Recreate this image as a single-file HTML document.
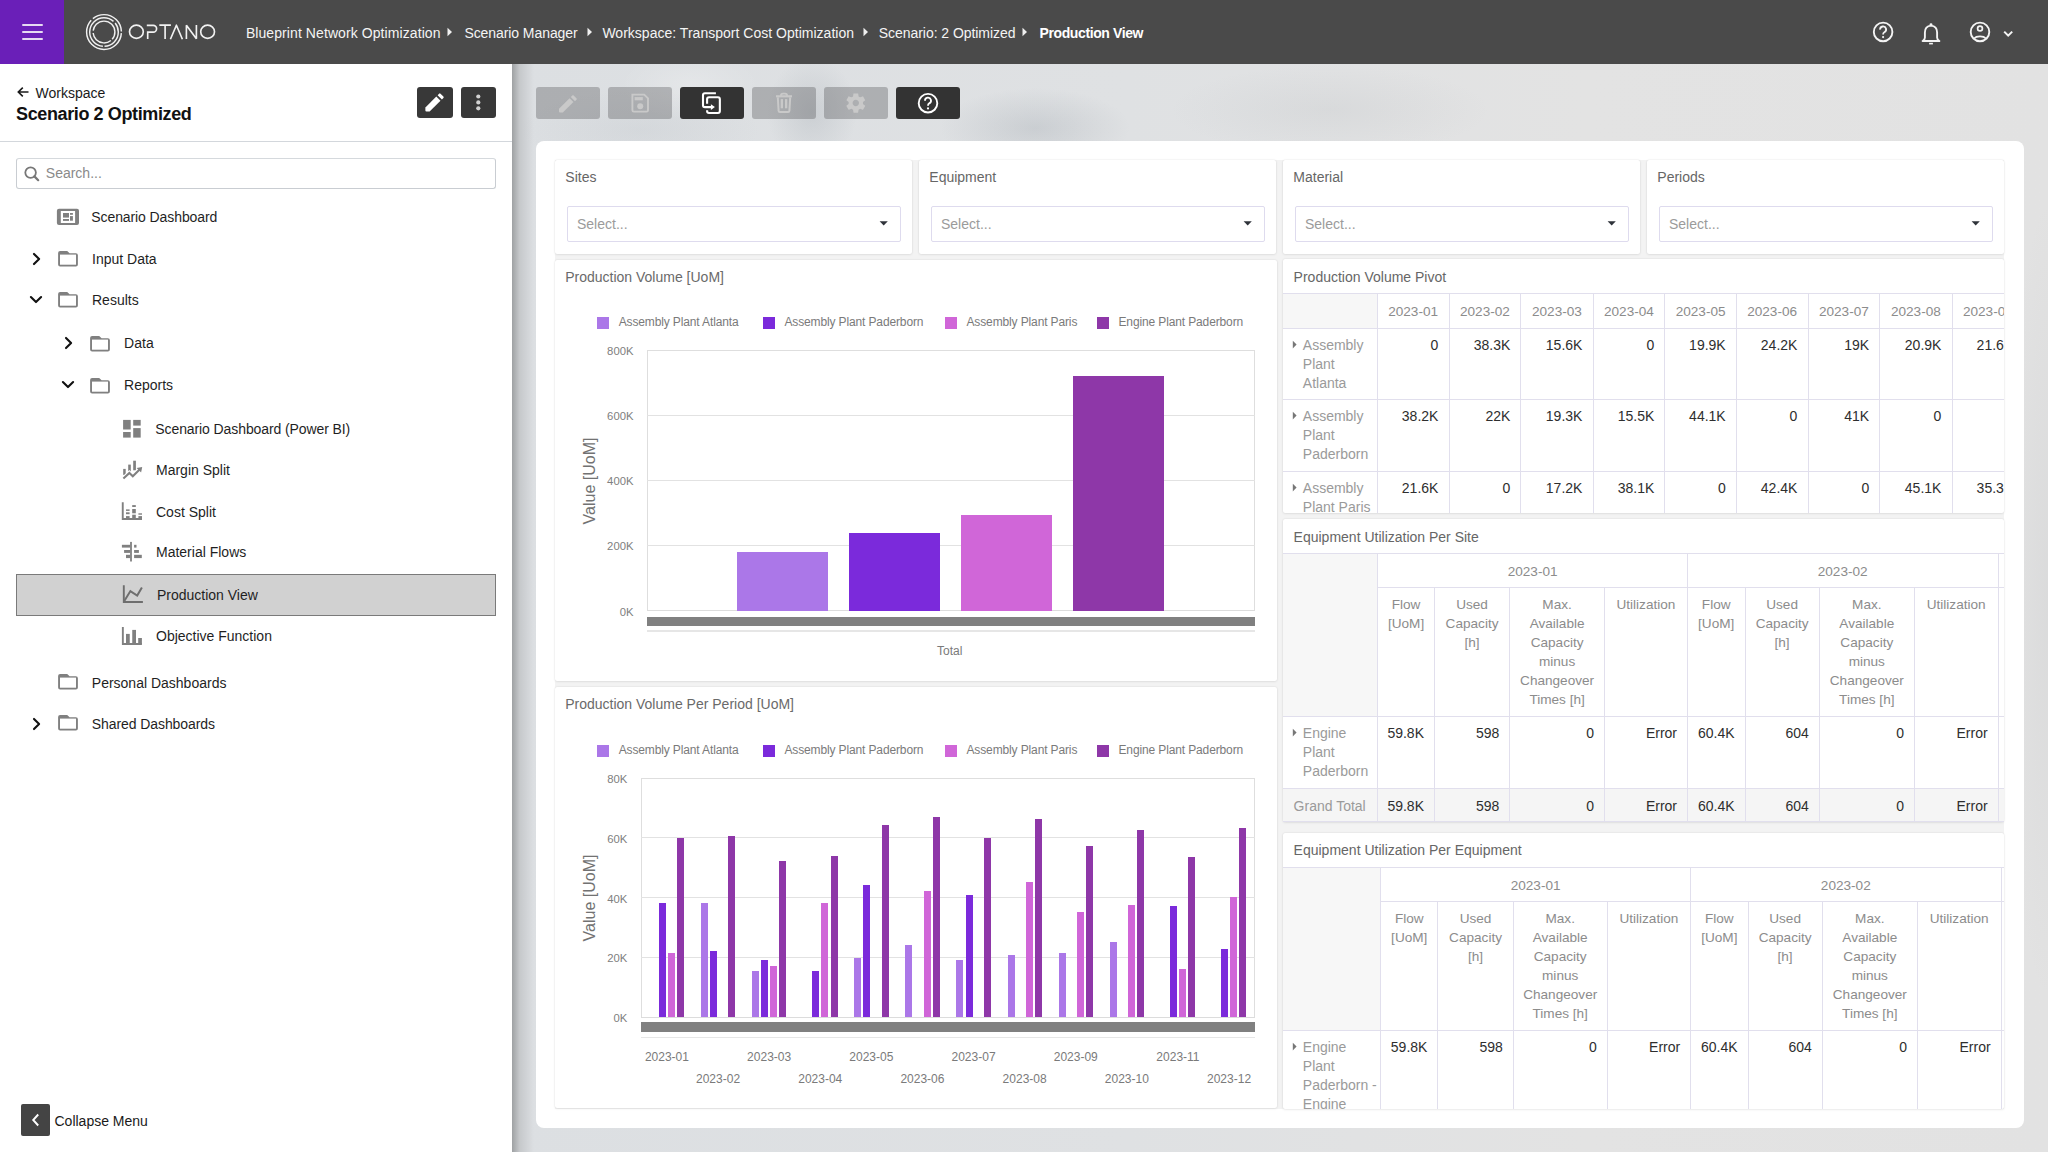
<!DOCTYPE html>
<html><head><meta charset="utf-8"><title>Production View</title>
<style>
html,body{margin:0;padding:0;}
body{width:2048px;height:1152px;position:relative;overflow:hidden;background:#e2e3e4;font-family:"Liberation Sans", sans-serif;}
.r{position:absolute;}
.t{position:absolute;white-space:nowrap;}
</style></head><body>
<div class="r" style="left:512px;top:64px;width:1536px;height:1088px;background:radial-gradient(ellipse 45px 55px at 300px 48px, rgba(130,140,150,0.20), rgba(0,0,0,0)),radial-gradient(ellipse 95px 40px at 523px 64px, rgba(130,140,150,0.22), rgba(0,0,0,0)),radial-gradient(ellipse 160px 45px at 818px 46px, rgba(140,145,150,0.10), rgba(0,0,0,0)),radial-gradient(ellipse 70px 35px at 178px 21px, rgba(255,255,255,0.22), rgba(0,0,0,0)),radial-gradient(ellipse 120px 40px at 128px 66px, rgba(140,150,160,0.10), rgba(0,0,0,0)),radial-gradient(ellipse 40px 400px at 1536px 536px, rgba(150,155,160,0.10), rgba(0,0,0,0)),linear-gradient(90deg,#dcdfe2 0%,#dfe1e3 40%,#e3e3e3 70%,#e2e2e2 100%);"></div>
<div class="r" style="left:536px;top:87px;width:64px;height:32px;background:rgba(70,72,74,0.32);border-radius:3px;"></div>
<div class="r" style="left:608px;top:87px;width:64px;height:32px;background:rgba(70,72,74,0.32);border-radius:3px;"></div>
<div class="r" style="left:680px;top:87px;width:64px;height:32px;background:#333333;border-radius:3px;"></div>
<div class="r" style="left:752px;top:87px;width:64px;height:32px;background:rgba(70,72,74,0.32);border-radius:3px;"></div>
<div class="r" style="left:824px;top:87px;width:64px;height:32px;background:rgba(70,72,74,0.32);border-radius:3px;"></div>
<div class="r" style="left:896px;top:87px;width:64px;height:32px;background:#333333;border-radius:3px;"></div>
<svg class="r" style="left:536px;top:87px;" width="64" height="32" viewBox="0 0 64 32"><path d="M23 21.8 L33.6 11.2 L37.4 15 L26.8 25.6 L24 25.6 Q23 25.6 23 24.6 Z" fill="#c9c9c9"/><path d="M34.8 10 L36.4 8.4 Q37 7.8 37.6 8.4 L40.6 11.4 Q41.2 12 40.6 12.6 L39 14.2 Z" fill="#c9c9c9"/></svg>
<svg class="r" style="left:608px;top:87px;" width="64" height="32" viewBox="0 0 64 32"><path d="M24.4 7.6 H36.2 L40 11.4 V23.2 Q40 24.6 38.6 24.6 H25.8 Q24.4 24.6 24.4 23.2 Z" fill="none" stroke="#c9c9c9" stroke-width="1.9"/><rect x="26.6" y="10.1" width="8.2" height="3.2" fill="#c9c9c9"/><circle cx="32.2" cy="19.3" r="3" fill="#c9c9c9"/></svg>
<svg class="r" style="left:680px;top:87px;" width="64" height="32" viewBox="0 0 64 32"><path d="M35.9 6.2 H24.9 Q23 6.2 23 8.1 V18.2 Q23 20.1 24.9 20.1 H31.6" fill="none" stroke="#ffffff" stroke-width="2.1"/><path d="M30.9 17.2 L34.9 20.1 L30.9 23 Z" fill="#ffffff"/><path d="M27.1 16.8 V12.2 Q27.1 10.3 29 10.3 H37.95 Q39.85 10.3 39.85 12.2 V24.1 Q39.85 26 37.95 26 H29 Q27.1 26 27.1 24.1 V23.3" fill="none" stroke="#ffffff" stroke-width="2.1"/></svg>
<svg class="r" style="left:752px;top:87px;" width="64" height="32" viewBox="0 0 64 32"><path d="M24 9.3 H40" stroke="#c9c9c9" stroke-width="2.2"/><path d="M28.8 9 Q28.8 6.6 31 6.6 H33 Q35.2 6.6 35.2 9" fill="none" stroke="#c9c9c9" stroke-width="1.7"/><path d="M25.8 10.4 L26.6 23.8 Q26.7 24.9 27.8 24.9 H36.2 Q37.3 24.9 37.4 23.8 L38.2 10.4" fill="none" stroke="#c9c9c9" stroke-width="2"/><rect x="28.7" y="12.1" width="2.3" height="9.2" fill="#c9c9c9"/><rect x="33" y="12.1" width="2.3" height="9.2" fill="#c9c9c9"/></svg>
<svg class="r" style="left:824px;top:87px;" width="64" height="32" viewBox="0 0 64 32"><g transform="translate(19.8 4.06)"><path fill="#c9c9c9" fill-rule="evenodd" d="M19.14 12.94c.04-.3.06-.61.06-.94 0-.32-.02-.64-.07-.94l2.03-1.58c.18-.14.23-.41.12-.61l-1.92-3.32c-.12-.22-.37-.29-.59-.22l-2.39.96c-.5-.38-1.030-.7-1.62-.94l-.36-2.54c-.04-.24-.24-.41-.48-.41h-3.84c-.24 0-.43.17-.47.41l-.36 2.54c-.59.24-1.13.57-1.62.94l-2.39-.96c-.22-.08-.47 0-.59.22L2.74 8.87c-.12.21-.08.47.12.61l2.03 1.58c-.05.3-.09.63-.09.94s.02.64.07.94l-2.03 1.58c-.18.14-.23.41-.12.61l1.92 3.32c.12.22.37.29.59.22l2.39-.96c.5.38 1.03.7 1.62.94l.36 2.54c.05.24.24.41.48.41h3.840c.24 0 .44-.17.47-.41l.36-2.54c.59-.24 1.13-.56 1.62-.94l2.39.96c.22.08.47 0 .59-.22l1.92-3.32c.12-.22.07-.47-.12-.61l-2.01-1.58zM12 15.2c-1.77 0-3.2-1.43-3.2-3.2s1.43-3.2 3.2-3.2 3.2 1.43 3.2 3.2-1.43 3.2-3.2 3.2z"/></g></svg>
<svg class="r" style="left:896px;top:87px;" width="64" height="32" viewBox="0 0 64 32"><circle cx="32" cy="16.2" r="9.3" fill="none" stroke="#ffffff" stroke-width="1.9"/><path d="M29 13.8 A3 3 0 1 1 33.2 16.4 C32.2 16.9 32 17.5 32 18.8" fill="none" stroke="#ffffff" stroke-width="1.8"/><circle cx="32" cy="21.4" r="1.1" fill="#ffffff"/></svg>
<div class="r" style="left:536px;top:141px;width:1488px;height:987px;background:#ffffff;border-radius:8px;"></div>
<div class="r" style="left:555px;top:159.5px;width:1449px;height:949.5px;background:#f3f3f3;"></div>
<div class="r" style="left:555px;top:159.5px;width:357px;height:94px;background:#ffffff;box-shadow:0 0 2px rgba(0,0,0,0.12),0 1px 3px rgba(0,0,0,0.05);border-radius:2px;"></div>
<div class="t" style="top:168.45px;font-size:14px;line-height:18px;color:#666666;left:565.30px;">Sites</div>
<div class="r" style="left:567px;top:206px;width:334px;height:35.5px;background:#fff;border:1px solid #dedbee;border-radius:2px;box-sizing:border-box;"></div>
<div class="t" style="top:215.15px;font-size:14px;line-height:18px;color:#9b9b9b;left:577.00px;">Select...</div>
<svg class="r" style="left:878px;top:219px;" width="12" height="8" viewBox="0 0 12 8"><path d="M1.6 2.3 H9.8 L5.7 6.6 Z" fill="#2f333a"/></svg>
<div class="r" style="left:919px;top:159.5px;width:357px;height:94px;background:#ffffff;box-shadow:0 0 2px rgba(0,0,0,0.12),0 1px 3px rgba(0,0,0,0.05);border-radius:2px;"></div>
<div class="t" style="top:168.45px;font-size:14px;line-height:18px;color:#666666;left:929.30px;">Equipment</div>
<div class="r" style="left:931px;top:206px;width:334px;height:35.5px;background:#fff;border:1px solid #dedbee;border-radius:2px;box-sizing:border-box;"></div>
<div class="t" style="top:215.15px;font-size:14px;line-height:18px;color:#9b9b9b;left:941.00px;">Select...</div>
<svg class="r" style="left:1242px;top:219px;" width="12" height="8" viewBox="0 0 12 8"><path d="M1.6 2.3 H9.8 L5.7 6.6 Z" fill="#2f333a"/></svg>
<div class="r" style="left:1283px;top:159.5px;width:357px;height:94px;background:#ffffff;box-shadow:0 0 2px rgba(0,0,0,0.12),0 1px 3px rgba(0,0,0,0.05);border-radius:2px;"></div>
<div class="t" style="top:168.45px;font-size:14px;line-height:18px;color:#666666;left:1293.30px;">Material</div>
<div class="r" style="left:1295px;top:206px;width:334px;height:35.5px;background:#fff;border:1px solid #dedbee;border-radius:2px;box-sizing:border-box;"></div>
<div class="t" style="top:215.15px;font-size:14px;line-height:18px;color:#9b9b9b;left:1305.00px;">Select...</div>
<svg class="r" style="left:1606px;top:219px;" width="12" height="8" viewBox="0 0 12 8"><path d="M1.6 2.3 H9.8 L5.7 6.6 Z" fill="#2f333a"/></svg>
<div class="r" style="left:1647px;top:159.5px;width:357px;height:94px;background:#ffffff;box-shadow:0 0 2px rgba(0,0,0,0.12),0 1px 3px rgba(0,0,0,0.05);border-radius:2px;"></div>
<div class="t" style="top:168.45px;font-size:14px;line-height:18px;color:#666666;left:1657.30px;">Periods</div>
<div class="r" style="left:1659px;top:206px;width:334px;height:35.5px;background:#fff;border:1px solid #dedbee;border-radius:2px;box-sizing:border-box;"></div>
<div class="t" style="top:215.15px;font-size:14px;line-height:18px;color:#9b9b9b;left:1669.00px;">Select...</div>
<svg class="r" style="left:1970px;top:219px;" width="12" height="8" viewBox="0 0 12 8"><path d="M1.6 2.3 H9.8 L5.7 6.6 Z" fill="#2f333a"/></svg>
<div class="r" style="left:555px;top:259.5px;width:722px;height:421px;background:#ffffff;box-shadow:0 0 2px rgba(0,0,0,0.12),0 1px 3px rgba(0,0,0,0.05);border-radius:2px;"></div>
<div class="t" style="top:267.65px;font-size:14px;line-height:18px;color:#6a6a6a;left:565.20px;">Production Volume [UoM]</div>
<div class="r" style="left:597.3px;top:316.8px;width:12px;height:12px;background:#ab77e8;"></div>
<div class="t" style="top:314.74px;font-size:12px;line-height:15px;color:#7a7a7a;letter-spacing:-0.13px;left:618.70px;">Assembly Plant Atlanta</div>
<div class="r" style="left:763.4px;top:316.8px;width:12px;height:12px;background:#7b2adb;"></div>
<div class="t" style="top:314.74px;font-size:12px;line-height:15px;color:#7a7a7a;letter-spacing:-0.13px;left:784.40px;">Assembly Plant Paderborn</div>
<div class="r" style="left:945.1px;top:316.8px;width:12px;height:12px;background:#d066d8;"></div>
<div class="t" style="top:314.74px;font-size:12px;line-height:15px;color:#7a7a7a;letter-spacing:-0.13px;left:966.50px;">Assembly Plant Paris</div>
<div class="r" style="left:1097px;top:316.8px;width:12px;height:12px;background:#8e37a8;"></div>
<div class="t" style="top:314.74px;font-size:12px;line-height:15px;color:#7a7a7a;letter-spacing:-0.13px;left:1118.50px;">Engine Plant Paderborn</div>
<div class="r" style="left:647px;top:350px;width:608px;height:260.79999999999995px;border:1px solid #dedede;border-bottom:none;box-sizing:border-box"></div>
<div class="t" style="top:343.78px;font-size:11.3px;line-height:14px;color:#808080;right:1414.50px;text-align:right;">800K</div>
<div class="r" style="left:647px;top:414.7px;width:608px;height:1px;background:#e2e2e2;"></div>
<div class="t" style="top:408.98px;font-size:11.3px;line-height:14px;color:#808080;right:1414.50px;text-align:right;">600K</div>
<div class="r" style="left:647px;top:479.9px;width:608px;height:1px;background:#e2e2e2;"></div>
<div class="t" style="top:474.18px;font-size:11.3px;line-height:14px;color:#808080;right:1414.50px;text-align:right;">400K</div>
<div class="r" style="left:647px;top:545.0999999999999px;width:608px;height:1px;background:#e2e2e2;"></div>
<div class="t" style="top:539.38px;font-size:11.3px;line-height:14px;color:#808080;right:1414.50px;text-align:right;">200K</div>
<div class="t" style="top:604.58px;font-size:11.3px;line-height:14px;color:#808080;right:1414.50px;text-align:right;">0K</div>
<div class="r" style="left:647px;top:610.3px;width:608px;height:1.2px;background:#dcdcdc;"></div>
<div class="r" style="left:737px;top:551.6px;width:91.29999999999995px;height:59.19999999999993px;background:#ab77e8;"></div>
<div class="r" style="left:848.9px;top:532.5px;width:91.30000000000007px;height:78.29999999999995px;background:#7b2adb;"></div>
<div class="r" style="left:961.2px;top:515.4px;width:90.79999999999995px;height:95.39999999999998px;background:#d066d8;"></div>
<div class="r" style="left:1073.4px;top:376.4px;width:90.89999999999986px;height:234.39999999999998px;background:#8e37a8;"></div>
<div class="r" style="left:647px;top:616.6px;width:608px;height:9.5px;background:#808080;"></div>
<div class="r" style="left:647px;top:630px;width:608px;height:1.5px;background:#e6e6e6;"></div>
<div class="t" style="top:643.54px;font-size:12px;line-height:15px;color:#7a7a7a;left:899.70px;width:100px;text-align:center;">Total</div>
<div class="t" style="left:529.6px;top:471px;width:120px;height:20px;line-height:20px;text-align:center;font-size:16px;color:#727272;transform:rotate(-90deg)">Value [UoM]</div>
<div class="r" style="left:555px;top:687.4px;width:722px;height:421px;background:#ffffff;box-shadow:0 0 2px rgba(0,0,0,0.12),0 1px 3px rgba(0,0,0,0.05);border-radius:2px;"></div>
<div class="t" style="top:694.95px;font-size:14px;line-height:18px;color:#6a6a6a;left:565.20px;">Production Volume Per Period [UoM]</div>
<div class="r" style="left:597.3px;top:744.7px;width:12px;height:12px;background:#ab77e8;"></div>
<div class="t" style="top:742.64px;font-size:12px;line-height:15px;color:#7a7a7a;letter-spacing:-0.13px;left:618.70px;">Assembly Plant Atlanta</div>
<div class="r" style="left:763.4px;top:744.7px;width:12px;height:12px;background:#7b2adb;"></div>
<div class="t" style="top:742.64px;font-size:12px;line-height:15px;color:#7a7a7a;letter-spacing:-0.13px;left:784.40px;">Assembly Plant Paderborn</div>
<div class="r" style="left:945.1px;top:744.7px;width:12px;height:12px;background:#d066d8;"></div>
<div class="t" style="top:742.64px;font-size:12px;line-height:15px;color:#7a7a7a;letter-spacing:-0.13px;left:966.50px;">Assembly Plant Paris</div>
<div class="r" style="left:1097px;top:744.7px;width:12px;height:12px;background:#8e37a8;"></div>
<div class="t" style="top:742.64px;font-size:12px;line-height:15px;color:#7a7a7a;letter-spacing:-0.13px;left:1118.50px;">Engine Plant Paderborn</div>
<div class="r" style="left:641.4px;top:778.2px;width:613.5000000000001px;height:238.89999999999998px;border:1px solid #dedede;border-bottom:none;box-sizing:border-box"></div>
<div class="t" style="top:772.28px;font-size:11.3px;line-height:14px;color:#808080;right:1420.70px;text-align:right;">80K</div>
<div class="r" style="left:641.4px;top:837.4250000000001px;width:613.5000000000001px;height:1px;background:#e2e2e2;"></div>
<div class="t" style="top:832.01px;font-size:11.3px;line-height:14px;color:#808080;right:1420.70px;text-align:right;">60K</div>
<div class="r" style="left:641.4px;top:897.1500000000001px;width:613.5000000000001px;height:1px;background:#e2e2e2;"></div>
<div class="t" style="top:891.73px;font-size:11.3px;line-height:14px;color:#808080;right:1420.70px;text-align:right;">40K</div>
<div class="r" style="left:641.4px;top:956.875px;width:613.5000000000001px;height:1px;background:#e2e2e2;"></div>
<div class="t" style="top:951.46px;font-size:11.3px;line-height:14px;color:#808080;right:1420.70px;text-align:right;">20K</div>
<div class="t" style="top:1011.18px;font-size:11.3px;line-height:14px;color:#808080;right:1420.70px;text-align:right;">0K</div>
<div class="r" style="left:641.4px;top:1016.6px;width:613.5000000000001px;height:1.2px;background:#dcdcdc;"></div>
<div class="r" style="left:659.1px;top:903.0px;width:7px;height:114.1px;background:#7b2adb;"></div>
<div class="r" style="left:668.2px;top:952.6px;width:7px;height:64.5px;background:#d066d8;"></div>
<div class="r" style="left:677.3px;top:837.6px;width:7px;height:179.5px;background:#8e37a8;"></div>
<div class="r" style="left:701.1px;top:902.7px;width:7px;height:114.4px;background:#ab77e8;"></div>
<div class="r" style="left:710.2px;top:951.4px;width:7px;height:65.7px;background:#7b2adb;"></div>
<div class="r" style="left:728.4px;top:836.4px;width:7px;height:180.7px;background:#8e37a8;"></div>
<div class="r" style="left:752.1px;top:970.5px;width:7px;height:46.6px;background:#ab77e8;"></div>
<div class="r" style="left:761.2px;top:959.5px;width:7px;height:57.6px;background:#7b2adb;"></div>
<div class="r" style="left:770.3px;top:965.7px;width:7px;height:51.4px;background:#d066d8;"></div>
<div class="r" style="left:779.4px;top:861.2px;width:7px;height:155.9px;background:#8e37a8;"></div>
<div class="r" style="left:812.3px;top:970.8px;width:7px;height:46.3px;background:#7b2adb;"></div>
<div class="r" style="left:821.4px;top:903.3px;width:7px;height:113.8px;background:#d066d8;"></div>
<div class="r" style="left:830.5px;top:856.4px;width:7px;height:160.7px;background:#8e37a8;"></div>
<div class="r" style="left:854.3px;top:957.7px;width:7px;height:59.4px;background:#ab77e8;"></div>
<div class="r" style="left:863.4px;top:885.4px;width:7px;height:131.7px;background:#7b2adb;"></div>
<div class="r" style="left:881.6px;top:825.1px;width:7px;height:192.0px;background:#8e37a8;"></div>
<div class="r" style="left:905.4px;top:944.8px;width:7px;height:72.3px;background:#ab77e8;"></div>
<div class="r" style="left:923.6px;top:890.5px;width:7px;height:126.6px;background:#d066d8;"></div>
<div class="r" style="left:932.6px;top:817.3px;width:7px;height:199.8px;background:#8e37a8;"></div>
<div class="r" style="left:956.4px;top:960.4px;width:7px;height:56.7px;background:#ab77e8;"></div>
<div class="r" style="left:965.5px;top:894.7px;width:7px;height:122.4px;background:#7b2adb;"></div>
<div class="r" style="left:983.7px;top:837.6px;width:7px;height:179.5px;background:#8e37a8;"></div>
<div class="r" style="left:1007.5px;top:954.7px;width:7px;height:62.4px;background:#ab77e8;"></div>
<div class="r" style="left:1025.7px;top:882.4px;width:7px;height:134.7px;background:#d066d8;"></div>
<div class="r" style="left:1034.8px;top:819.4px;width:7px;height:197.7px;background:#8e37a8;"></div>
<div class="r" style="left:1058.6px;top:952.6px;width:7px;height:64.5px;background:#ab77e8;"></div>
<div class="r" style="left:1076.8px;top:911.7px;width:7px;height:105.4px;background:#d066d8;"></div>
<div class="r" style="left:1085.9px;top:846.0px;width:7px;height:171.1px;background:#8e37a8;"></div>
<div class="r" style="left:1109.6px;top:942.4px;width:7px;height:74.7px;background:#ab77e8;"></div>
<div class="r" style="left:1127.8px;top:905.1px;width:7px;height:112.0px;background:#d066d8;"></div>
<div class="r" style="left:1136.9px;top:830.2px;width:7px;height:186.9px;background:#8e37a8;"></div>
<div class="r" style="left:1169.8px;top:906.0px;width:7px;height:111.1px;background:#7b2adb;"></div>
<div class="r" style="left:1178.9px;top:968.7px;width:7px;height:48.4px;background:#d066d8;"></div>
<div class="r" style="left:1188.0px;top:857.3px;width:7px;height:159.8px;background:#8e37a8;"></div>
<div class="r" style="left:1220.9px;top:949.0px;width:7px;height:68.1px;background:#7b2adb;"></div>
<div class="r" style="left:1230.0px;top:897.4px;width:7px;height:119.7px;background:#d066d8;"></div>
<div class="r" style="left:1239.1px;top:828.1px;width:7px;height:189.0px;background:#8e37a8;"></div>
<div class="r" style="left:641.4px;top:1022px;width:613.5000000000001px;height:10.3px;background:#808080;"></div>
<div class="r" style="left:641.4px;top:1036.5px;width:613.5000000000001px;height:1.5px;background:#e6e6e6;"></div>
<div class="t" style="top:1050.14px;font-size:12px;line-height:15px;color:#7a7a7a;left:626.95px;width:80px;text-align:center;">2023-01</div>
<div class="t" style="top:1071.64px;font-size:12px;line-height:15px;color:#7a7a7a;left:678.05px;width:80px;text-align:center;">2023-02</div>
<div class="t" style="top:1050.14px;font-size:12px;line-height:15px;color:#7a7a7a;left:729.15px;width:80px;text-align:center;">2023-03</div>
<div class="t" style="top:1071.64px;font-size:12px;line-height:15px;color:#7a7a7a;left:780.25px;width:80px;text-align:center;">2023-04</div>
<div class="t" style="top:1050.14px;font-size:12px;line-height:15px;color:#7a7a7a;left:831.35px;width:80px;text-align:center;">2023-05</div>
<div class="t" style="top:1071.64px;font-size:12px;line-height:15px;color:#7a7a7a;left:882.45px;width:80px;text-align:center;">2023-06</div>
<div class="t" style="top:1050.14px;font-size:12px;line-height:15px;color:#7a7a7a;left:933.55px;width:80px;text-align:center;">2023-07</div>
<div class="t" style="top:1071.64px;font-size:12px;line-height:15px;color:#7a7a7a;left:984.65px;width:80px;text-align:center;">2023-08</div>
<div class="t" style="top:1050.14px;font-size:12px;line-height:15px;color:#7a7a7a;left:1035.75px;width:80px;text-align:center;">2023-09</div>
<div class="t" style="top:1071.64px;font-size:12px;line-height:15px;color:#7a7a7a;left:1086.85px;width:80px;text-align:center;">2023-10</div>
<div class="t" style="top:1050.14px;font-size:12px;line-height:15px;color:#7a7a7a;left:1137.95px;width:80px;text-align:center;">2023-11</div>
<div class="t" style="top:1071.64px;font-size:12px;line-height:15px;color:#7a7a7a;left:1189.05px;width:80px;text-align:center;">2023-12</div>
<div class="t" style="left:529.6px;top:887.5px;width:120px;height:20px;line-height:20px;text-align:center;font-size:16px;color:#727272;transform:rotate(-90deg)">Value [UoM]</div>
<div class="r" style="left:1283px;top:259.2px;width:721px;height:253.7px;background:#ffffff;box-shadow:0 0 2px rgba(0,0,0,0.12),0 1px 3px rgba(0,0,0,0.05);border-radius:2px;"></div>
<div class="t" style="top:268.45px;font-size:14px;line-height:18px;color:#666666;left:1293.60px;">Production Volume Pivot</div>
<div class="r" style="left:1283px;top:259.2px;width:721px;height:253.7px;overflow:hidden"><div class="r" style="left:-1283px;top:-259.2px;width:2048px;height:1152px">
<div class="r" style="left:1283px;top:293.7px;width:94.29999999999995px;height:34.5px;background:#f7f7f7;"></div>
<div class="r" style="left:1283px;top:293.2px;width:765px;height:1px;background:#e1dfed;"></div>
<div class="r" style="left:1283px;top:327.7px;width:765px;height:1px;background:#e1dfed;"></div>
<div class="r" style="left:1283px;top:398.5px;width:765px;height:1px;background:#e1dfed;"></div>
<div class="r" style="left:1283px;top:470.6px;width:765px;height:1px;background:#e1dfed;"></div>
<div class="r" style="left:1376.8px;top:293.7px;width:1px;height:226.3px;background:#e1dfed;"></div>
<div class="r" style="left:1448.5px;top:293.7px;width:1px;height:226.3px;background:#e1dfed;"></div>
<div class="r" style="left:1520.4px;top:293.7px;width:1px;height:226.3px;background:#e1dfed;"></div>
<div class="r" style="left:1592.5px;top:293.7px;width:1px;height:226.3px;background:#e1dfed;"></div>
<div class="r" style="left:1664.4px;top:293.7px;width:1px;height:226.3px;background:#e1dfed;"></div>
<div class="r" style="left:1735.8px;top:293.7px;width:1px;height:226.3px;background:#e1dfed;"></div>
<div class="r" style="left:1807.5px;top:293.7px;width:1px;height:226.3px;background:#e1dfed;"></div>
<div class="r" style="left:1879.3px;top:293.7px;width:1px;height:226.3px;background:#e1dfed;"></div>
<div class="r" style="left:1951.5px;top:293.7px;width:1px;height:226.3px;background:#e1dfed;"></div>
<div class="r" style="left:2023.3px;top:293.7px;width:1px;height:226.3px;background:#e1dfed;"></div>
<div class="t" style="top:302.89px;font-size:13.6px;line-height:17px;color:#8c8c8c;left:1373.15px;width:80px;text-align:center;">2023-01</div>
<div class="t" style="top:302.89px;font-size:13.6px;line-height:17px;color:#8c8c8c;left:1444.95px;width:80px;text-align:center;">2023-02</div>
<div class="t" style="top:302.89px;font-size:13.6px;line-height:17px;color:#8c8c8c;left:1516.95px;width:80px;text-align:center;">2023-03</div>
<div class="t" style="top:302.89px;font-size:13.6px;line-height:17px;color:#8c8c8c;left:1588.95px;width:80px;text-align:center;">2023-04</div>
<div class="t" style="top:302.89px;font-size:13.6px;line-height:17px;color:#8c8c8c;left:1660.60px;width:80px;text-align:center;">2023-05</div>
<div class="t" style="top:302.89px;font-size:13.6px;line-height:17px;color:#8c8c8c;left:1732.15px;width:80px;text-align:center;">2023-06</div>
<div class="t" style="top:302.89px;font-size:13.6px;line-height:17px;color:#8c8c8c;left:1803.90px;width:80px;text-align:center;">2023-07</div>
<div class="t" style="top:302.89px;font-size:13.6px;line-height:17px;color:#8c8c8c;left:1875.90px;width:80px;text-align:center;">2023-08</div>
<div class="t" style="top:302.89px;font-size:13.6px;line-height:17px;color:#8c8c8c;left:1947.90px;width:80px;text-align:center;">2023-09</div>
<svg class="r" style="left:1292.4px;top:340.09999999999997px;" width="6" height="10" viewBox="0 0 6 10"><path d="M0.8 0.8 L4.6 4.6 L0.8 8.4 Z" fill="#777"/></svg>
<div class="t" style="top:336.25px;font-size:14px;line-height:18px;color:#9a9a9a;left:1302.80px;">Assembly</div>
<div class="t" style="top:355.25px;font-size:14px;line-height:18px;color:#9a9a9a;left:1302.80px;">Plant</div>
<div class="t" style="top:374.25px;font-size:14px;line-height:18px;color:#9a9a9a;left:1302.80px;">Atlanta</div>
<div class="t" style="top:336.25px;font-size:14px;line-height:18px;color:#2e2e2e;right:609.60px;text-align:right;">0</div>
<div class="t" style="top:336.25px;font-size:14px;line-height:18px;color:#2e2e2e;right:537.70px;text-align:right;">38.3K</div>
<div class="t" style="top:336.25px;font-size:14px;line-height:18px;color:#2e2e2e;right:465.60px;text-align:right;">15.6K</div>
<div class="t" style="top:336.25px;font-size:14px;line-height:18px;color:#2e2e2e;right:393.70px;text-align:right;">0</div>
<div class="t" style="top:336.25px;font-size:14px;line-height:18px;color:#2e2e2e;right:322.30px;text-align:right;">19.9K</div>
<div class="t" style="top:336.25px;font-size:14px;line-height:18px;color:#2e2e2e;right:250.60px;text-align:right;">24.2K</div>
<div class="t" style="top:336.25px;font-size:14px;line-height:18px;color:#2e2e2e;right:178.80px;text-align:right;">19K</div>
<div class="t" style="top:336.25px;font-size:14px;line-height:18px;color:#2e2e2e;right:106.60px;text-align:right;">20.9K</div>
<div class="t" style="top:336.25px;font-size:14px;line-height:18px;color:#2e2e2e;right:34.80px;text-align:right;">21.6K</div>
<svg class="r" style="left:1292.4px;top:410.9px;" width="6" height="10" viewBox="0 0 6 10"><path d="M0.8 0.8 L4.6 4.6 L0.8 8.4 Z" fill="#777"/></svg>
<div class="t" style="top:407.05px;font-size:14px;line-height:18px;color:#9a9a9a;left:1302.80px;">Assembly</div>
<div class="t" style="top:426.05px;font-size:14px;line-height:18px;color:#9a9a9a;left:1302.80px;">Plant</div>
<div class="t" style="top:445.05px;font-size:14px;line-height:18px;color:#9a9a9a;left:1302.80px;">Paderborn</div>
<div class="t" style="top:407.05px;font-size:14px;line-height:18px;color:#2e2e2e;right:609.60px;text-align:right;">38.2K</div>
<div class="t" style="top:407.05px;font-size:14px;line-height:18px;color:#2e2e2e;right:537.70px;text-align:right;">22K</div>
<div class="t" style="top:407.05px;font-size:14px;line-height:18px;color:#2e2e2e;right:465.60px;text-align:right;">19.3K</div>
<div class="t" style="top:407.05px;font-size:14px;line-height:18px;color:#2e2e2e;right:393.70px;text-align:right;">15.5K</div>
<div class="t" style="top:407.05px;font-size:14px;line-height:18px;color:#2e2e2e;right:322.30px;text-align:right;">44.1K</div>
<div class="t" style="top:407.05px;font-size:14px;line-height:18px;color:#2e2e2e;right:250.60px;text-align:right;">0</div>
<div class="t" style="top:407.05px;font-size:14px;line-height:18px;color:#2e2e2e;right:178.80px;text-align:right;">41K</div>
<div class="t" style="top:407.05px;font-size:14px;line-height:18px;color:#2e2e2e;right:106.60px;text-align:right;">0</div>
<svg class="r" style="left:1292.4px;top:483.0px;" width="6" height="10" viewBox="0 0 6 10"><path d="M0.8 0.8 L4.6 4.6 L0.8 8.4 Z" fill="#777"/></svg>
<div class="t" style="top:479.15px;font-size:14px;line-height:18px;color:#9a9a9a;left:1302.80px;">Assembly</div>
<div class="t" style="top:498.15px;font-size:14px;line-height:18px;color:#9a9a9a;left:1302.80px;">Plant Paris</div>
<div class="t" style="top:479.15px;font-size:14px;line-height:18px;color:#2e2e2e;right:609.60px;text-align:right;">21.6K</div>
<div class="t" style="top:479.15px;font-size:14px;line-height:18px;color:#2e2e2e;right:537.70px;text-align:right;">0</div>
<div class="t" style="top:479.15px;font-size:14px;line-height:18px;color:#2e2e2e;right:465.60px;text-align:right;">17.2K</div>
<div class="t" style="top:479.15px;font-size:14px;line-height:18px;color:#2e2e2e;right:393.70px;text-align:right;">38.1K</div>
<div class="t" style="top:479.15px;font-size:14px;line-height:18px;color:#2e2e2e;right:322.30px;text-align:right;">0</div>
<div class="t" style="top:479.15px;font-size:14px;line-height:18px;color:#2e2e2e;right:250.60px;text-align:right;">42.4K</div>
<div class="t" style="top:479.15px;font-size:14px;line-height:18px;color:#2e2e2e;right:178.80px;text-align:right;">0</div>
<div class="t" style="top:479.15px;font-size:14px;line-height:18px;color:#2e2e2e;right:106.60px;text-align:right;">45.1K</div>
<div class="t" style="top:479.15px;font-size:14px;line-height:18px;color:#2e2e2e;right:34.80px;text-align:right;">35.3K</div>
</div></div>
<div class="r" style="left:1283px;top:518.8px;width:721px;height:303.5px;background:#ffffff;box-shadow:0 0 2px rgba(0,0,0,0.12),0 1px 3px rgba(0,0,0,0.05);border-radius:2px;"></div>
<div class="t" style="top:528.15px;font-size:14px;line-height:18px;color:#666666;left:1293.60px;">Equipment Utilization Per Site</div>
<div class="r" style="left:1283px;top:518.8px;width:721px;height:303.5px;overflow:hidden"><div class="r" style="left:-1283px;top:-518.8px;width:2048px;height:1152px">
<div class="r" style="left:1283px;top:553.6px;width:94.79999999999995px;height:162.89999999999998px;background:#f7f7f7;"></div>
<div class="r" style="left:1283px;top:788.2px;width:765px;height:33.19999999999993px;background:#f5f5f5;"></div>
<div class="r" style="left:1283px;top:553.1px;width:765px;height:1px;background:#e1dfed;"></div>
<div class="r" style="left:1377.8px;top:587.2px;width:670.2px;height:1px;background:#e1dfed;"></div>
<div class="r" style="left:1283px;top:716.0px;width:765px;height:1px;background:#e1dfed;"></div>
<div class="r" style="left:1283px;top:787.7px;width:765px;height:1px;background:#e1dfed;"></div>
<div class="r" style="left:1283px;top:820.9px;width:765px;height:1px;background:#e1dfed;"></div>
<div class="r" style="left:1377.3px;top:553.6px;width:1px;height:268.7px;background:#e1dfed;"></div>
<div class="r" style="left:1686.9px;top:553.6px;width:1px;height:268.7px;background:#e1dfed;"></div>
<div class="r" style="left:1997.5px;top:553.6px;width:1px;height:268.7px;background:#e1dfed;"></div>
<div class="r" style="left:1433.9px;top:587.7px;width:1px;height:234.6px;background:#e1dfed;"></div>
<div class="r" style="left:1509.2px;top:587.7px;width:1px;height:234.6px;background:#e1dfed;"></div>
<div class="r" style="left:1604.0px;top:587.7px;width:1px;height:234.6px;background:#e1dfed;"></div>
<div class="r" style="left:1744.5px;top:587.7px;width:1px;height:234.6px;background:#e1dfed;"></div>
<div class="r" style="left:1818.7px;top:587.7px;width:1px;height:234.6px;background:#e1dfed;"></div>
<div class="r" style="left:1913.9px;top:587.7px;width:1px;height:234.6px;background:#e1dfed;"></div>
<div class="r" style="left:2055.1px;top:587.7px;width:1px;height:234.6px;background:#e1dfed;"></div>
<div class="t" style="top:562.79px;font-size:13.6px;line-height:17px;color:#8c8c8c;left:1482.60px;width:100px;text-align:center;">2023-01</div>
<div class="t" style="top:562.79px;font-size:13.6px;line-height:17px;color:#8c8c8c;left:1792.70px;width:100px;text-align:center;">2023-02</div>
<div class="t" style="top:596.19px;font-size:13.6px;line-height:17px;color:#8c8c8c;left:1346.10px;width:120px;text-align:center;">Flow</div>
<div class="t" style="top:615.25px;font-size:13.6px;line-height:17px;color:#8c8c8c;left:1346.10px;width:120px;text-align:center;">[UoM]</div>
<div class="t" style="top:596.19px;font-size:13.6px;line-height:17px;color:#8c8c8c;left:1412.05px;width:120px;text-align:center;">Used</div>
<div class="t" style="top:615.25px;font-size:13.6px;line-height:17px;color:#8c8c8c;left:1412.05px;width:120px;text-align:center;">Capacity</div>
<div class="t" style="top:634.31px;font-size:13.6px;line-height:17px;color:#8c8c8c;left:1412.05px;width:120px;text-align:center;">[h]</div>
<div class="t" style="top:596.19px;font-size:13.6px;line-height:17px;color:#8c8c8c;left:1497.10px;width:120px;text-align:center;">Max.</div>
<div class="t" style="top:615.25px;font-size:13.6px;line-height:17px;color:#8c8c8c;left:1497.10px;width:120px;text-align:center;">Available</div>
<div class="t" style="top:634.31px;font-size:13.6px;line-height:17px;color:#8c8c8c;left:1497.10px;width:120px;text-align:center;">Capacity</div>
<div class="t" style="top:653.37px;font-size:13.6px;line-height:17px;color:#8c8c8c;left:1497.10px;width:120px;text-align:center;">minus</div>
<div class="t" style="top:672.43px;font-size:13.6px;line-height:17px;color:#8c8c8c;left:1497.10px;width:120px;text-align:center;">Changeover</div>
<div class="t" style="top:691.49px;font-size:13.6px;line-height:17px;color:#8c8c8c;left:1497.10px;width:120px;text-align:center;">Times [h]</div>
<div class="t" style="top:596.19px;font-size:13.6px;line-height:17px;color:#8c8c8c;left:1585.95px;width:120px;text-align:center;">Utilization</div>
<div class="t" style="top:596.19px;font-size:13.6px;line-height:17px;color:#8c8c8c;left:1656.20px;width:120px;text-align:center;">Flow</div>
<div class="t" style="top:615.25px;font-size:13.6px;line-height:17px;color:#8c8c8c;left:1656.20px;width:120px;text-align:center;">[UoM]</div>
<div class="t" style="top:596.19px;font-size:13.6px;line-height:17px;color:#8c8c8c;left:1722.10px;width:120px;text-align:center;">Used</div>
<div class="t" style="top:615.25px;font-size:13.6px;line-height:17px;color:#8c8c8c;left:1722.10px;width:120px;text-align:center;">Capacity</div>
<div class="t" style="top:634.31px;font-size:13.6px;line-height:17px;color:#8c8c8c;left:1722.10px;width:120px;text-align:center;">[h]</div>
<div class="t" style="top:596.19px;font-size:13.6px;line-height:17px;color:#8c8c8c;left:1806.80px;width:120px;text-align:center;">Max.</div>
<div class="t" style="top:615.25px;font-size:13.6px;line-height:17px;color:#8c8c8c;left:1806.80px;width:120px;text-align:center;">Available</div>
<div class="t" style="top:634.31px;font-size:13.6px;line-height:17px;color:#8c8c8c;left:1806.80px;width:120px;text-align:center;">Capacity</div>
<div class="t" style="top:653.37px;font-size:13.6px;line-height:17px;color:#8c8c8c;left:1806.80px;width:120px;text-align:center;">minus</div>
<div class="t" style="top:672.43px;font-size:13.6px;line-height:17px;color:#8c8c8c;left:1806.80px;width:120px;text-align:center;">Changeover</div>
<div class="t" style="top:691.49px;font-size:13.6px;line-height:17px;color:#8c8c8c;left:1806.80px;width:120px;text-align:center;">Times [h]</div>
<div class="t" style="top:596.19px;font-size:13.6px;line-height:17px;color:#8c8c8c;left:1896.20px;width:120px;text-align:center;">Utilization</div>
<svg class="r" style="left:1292.4px;top:728.1px;" width="6" height="10" viewBox="0 0 6 10"><path d="M0.8 0.8 L4.6 4.6 L0.8 8.4 Z" fill="#777"/></svg>
<div class="t" style="top:724.25px;font-size:14px;line-height:18px;color:#9a9a9a;left:1302.80px;">Engine</div>
<div class="t" style="top:743.31px;font-size:14px;line-height:18px;color:#9a9a9a;left:1302.80px;">Plant</div>
<div class="t" style="top:762.37px;font-size:14px;line-height:18px;color:#9a9a9a;left:1302.80px;">Paderborn</div>
<div class="t" style="top:724.25px;font-size:14px;line-height:18px;color:#2e2e2e;right:624.00px;text-align:right;">59.8K</div>
<div class="t" style="top:724.25px;font-size:14px;line-height:18px;color:#2e2e2e;right:548.70px;text-align:right;">598</div>
<div class="t" style="top:724.25px;font-size:14px;line-height:18px;color:#2e2e2e;right:453.90px;text-align:right;">0</div>
<div class="t" style="top:724.25px;font-size:14px;line-height:18px;color:#2e2e2e;right:371.00px;text-align:right;">Error</div>
<div class="t" style="top:724.25px;font-size:14px;line-height:18px;color:#2e2e2e;right:313.40px;text-align:right;">60.4K</div>
<div class="t" style="top:724.25px;font-size:14px;line-height:18px;color:#2e2e2e;right:239.20px;text-align:right;">604</div>
<div class="t" style="top:724.25px;font-size:14px;line-height:18px;color:#2e2e2e;right:144.00px;text-align:right;">0</div>
<div class="t" style="top:724.25px;font-size:14px;line-height:18px;color:#2e2e2e;right:60.40px;text-align:right;">Error</div>
<div class="t" style="top:796.65px;font-size:14px;line-height:18px;color:#9a9a9a;left:1293.60px;">Grand Total</div>
<div class="t" style="top:796.65px;font-size:14px;line-height:18px;color:#2e2e2e;right:624.00px;text-align:right;">59.8K</div>
<div class="t" style="top:796.65px;font-size:14px;line-height:18px;color:#2e2e2e;right:548.70px;text-align:right;">598</div>
<div class="t" style="top:796.65px;font-size:14px;line-height:18px;color:#2e2e2e;right:453.90px;text-align:right;">0</div>
<div class="t" style="top:796.65px;font-size:14px;line-height:18px;color:#2e2e2e;right:371.00px;text-align:right;">Error</div>
<div class="t" style="top:796.65px;font-size:14px;line-height:18px;color:#2e2e2e;right:313.40px;text-align:right;">60.4K</div>
<div class="t" style="top:796.65px;font-size:14px;line-height:18px;color:#2e2e2e;right:239.20px;text-align:right;">604</div>
<div class="t" style="top:796.65px;font-size:14px;line-height:18px;color:#2e2e2e;right:144.00px;text-align:right;">0</div>
<div class="t" style="top:796.65px;font-size:14px;line-height:18px;color:#2e2e2e;right:60.40px;text-align:right;">Error</div>
</div></div>
<div class="r" style="left:1283px;top:832.5px;width:721px;height:276.3px;background:#ffffff;box-shadow:0 0 2px rgba(0,0,0,0.12),0 1px 3px rgba(0,0,0,0.05);border-radius:2px;"></div>
<div class="t" style="top:841.35px;font-size:14px;line-height:18px;color:#666666;left:1293.60px;">Equipment Utilization Per Equipment</div>
<div class="r" style="left:1283px;top:832.5px;width:721px;height:276.3px;overflow:hidden"><div class="r" style="left:-1283px;top:-832.5px;width:2048px;height:1152px">
<div class="r" style="left:1283px;top:867.7px;width:97.70000000000005px;height:162.29999999999995px;background:#f7f7f7;"></div>
<div class="r" style="left:1283px;top:867.2px;width:765px;height:1px;background:#e1dfed;"></div>
<div class="r" style="left:1380.7px;top:901.2px;width:667.3px;height:1px;background:#e1dfed;"></div>
<div class="r" style="left:1283px;top:1029.5px;width:765px;height:1px;background:#e1dfed;"></div>
<div class="r" style="left:1283px;top:1499.5px;width:765px;height:1px;background:#e1dfed;"></div>
<div class="r" style="left:1380.2px;top:867.7px;width:1px;height:241.1px;background:#e1dfed;"></div>
<div class="r" style="left:1690.1px;top:867.7px;width:1px;height:241.1px;background:#e1dfed;"></div>
<div class="r" style="left:2000.5px;top:867.7px;width:1px;height:241.1px;background:#e1dfed;"></div>
<div class="r" style="left:1437.3px;top:901.7px;width:1px;height:207.1px;background:#e1dfed;"></div>
<div class="r" style="left:1512.8px;top:901.7px;width:1px;height:207.1px;background:#e1dfed;"></div>
<div class="r" style="left:1606.6px;top:901.7px;width:1px;height:207.1px;background:#e1dfed;"></div>
<div class="r" style="left:1747.5px;top:901.7px;width:1px;height:207.1px;background:#e1dfed;"></div>
<div class="r" style="left:1821.7px;top:901.7px;width:1px;height:207.1px;background:#e1dfed;"></div>
<div class="r" style="left:1916.9px;top:901.7px;width:1px;height:207.1px;background:#e1dfed;"></div>
<div class="r" style="left:2057.9px;top:901.7px;width:1px;height:207.1px;background:#e1dfed;"></div>
<div class="t" style="top:876.89px;font-size:13.6px;line-height:17px;color:#8c8c8c;left:1485.65px;width:100px;text-align:center;">2023-01</div>
<div class="t" style="top:876.89px;font-size:13.6px;line-height:17px;color:#8c8c8c;left:1795.80px;width:100px;text-align:center;">2023-02</div>
<div class="t" style="top:910.19px;font-size:13.6px;line-height:17px;color:#8c8c8c;left:1349.25px;width:120px;text-align:center;">Flow</div>
<div class="t" style="top:929.25px;font-size:13.6px;line-height:17px;color:#8c8c8c;left:1349.25px;width:120px;text-align:center;">[UoM]</div>
<div class="t" style="top:910.19px;font-size:13.6px;line-height:17px;color:#8c8c8c;left:1415.55px;width:120px;text-align:center;">Used</div>
<div class="t" style="top:929.25px;font-size:13.6px;line-height:17px;color:#8c8c8c;left:1415.55px;width:120px;text-align:center;">Capacity</div>
<div class="t" style="top:948.31px;font-size:13.6px;line-height:17px;color:#8c8c8c;left:1415.55px;width:120px;text-align:center;">[h]</div>
<div class="t" style="top:910.19px;font-size:13.6px;line-height:17px;color:#8c8c8c;left:1500.20px;width:120px;text-align:center;">Max.</div>
<div class="t" style="top:929.25px;font-size:13.6px;line-height:17px;color:#8c8c8c;left:1500.20px;width:120px;text-align:center;">Available</div>
<div class="t" style="top:948.31px;font-size:13.6px;line-height:17px;color:#8c8c8c;left:1500.20px;width:120px;text-align:center;">Capacity</div>
<div class="t" style="top:967.37px;font-size:13.6px;line-height:17px;color:#8c8c8c;left:1500.20px;width:120px;text-align:center;">minus</div>
<div class="t" style="top:986.43px;font-size:13.6px;line-height:17px;color:#8c8c8c;left:1500.20px;width:120px;text-align:center;">Changeover</div>
<div class="t" style="top:1005.49px;font-size:13.6px;line-height:17px;color:#8c8c8c;left:1500.20px;width:120px;text-align:center;">Times [h]</div>
<div class="t" style="top:910.19px;font-size:13.6px;line-height:17px;color:#8c8c8c;left:1588.85px;width:120px;text-align:center;">Utilization</div>
<div class="t" style="top:910.19px;font-size:13.6px;line-height:17px;color:#8c8c8c;left:1659.30px;width:120px;text-align:center;">Flow</div>
<div class="t" style="top:929.25px;font-size:13.6px;line-height:17px;color:#8c8c8c;left:1659.30px;width:120px;text-align:center;">[UoM]</div>
<div class="t" style="top:910.19px;font-size:13.6px;line-height:17px;color:#8c8c8c;left:1725.10px;width:120px;text-align:center;">Used</div>
<div class="t" style="top:929.25px;font-size:13.6px;line-height:17px;color:#8c8c8c;left:1725.10px;width:120px;text-align:center;">Capacity</div>
<div class="t" style="top:948.31px;font-size:13.6px;line-height:17px;color:#8c8c8c;left:1725.10px;width:120px;text-align:center;">[h]</div>
<div class="t" style="top:910.19px;font-size:13.6px;line-height:17px;color:#8c8c8c;left:1809.80px;width:120px;text-align:center;">Max.</div>
<div class="t" style="top:929.25px;font-size:13.6px;line-height:17px;color:#8c8c8c;left:1809.80px;width:120px;text-align:center;">Available</div>
<div class="t" style="top:948.31px;font-size:13.6px;line-height:17px;color:#8c8c8c;left:1809.80px;width:120px;text-align:center;">Capacity</div>
<div class="t" style="top:967.37px;font-size:13.6px;line-height:17px;color:#8c8c8c;left:1809.80px;width:120px;text-align:center;">minus</div>
<div class="t" style="top:986.43px;font-size:13.6px;line-height:17px;color:#8c8c8c;left:1809.80px;width:120px;text-align:center;">Changeover</div>
<div class="t" style="top:1005.49px;font-size:13.6px;line-height:17px;color:#8c8c8c;left:1809.80px;width:120px;text-align:center;">Times [h]</div>
<div class="t" style="top:910.19px;font-size:13.6px;line-height:17px;color:#8c8c8c;left:1899.20px;width:120px;text-align:center;">Utilization</div>
<svg class="r" style="left:1292.4px;top:1041.6px;" width="6" height="10" viewBox="0 0 6 10"><path d="M0.8 0.8 L4.6 4.6 L0.8 8.4 Z" fill="#777"/></svg>
<div class="t" style="top:1037.75px;font-size:14px;line-height:18px;color:#9a9a9a;left:1302.80px;">Engine</div>
<div class="t" style="top:1056.81px;font-size:14px;line-height:18px;color:#9a9a9a;left:1302.80px;">Plant</div>
<div class="t" style="top:1075.87px;font-size:14px;line-height:18px;color:#9a9a9a;left:1302.80px;">Paderborn -</div>
<div class="t" style="top:1094.93px;font-size:14px;line-height:18px;color:#9a9a9a;left:1302.80px;">Engine</div>
<div class="t" style="top:1037.75px;font-size:14px;line-height:18px;color:#2e2e2e;right:620.60px;text-align:right;">59.8K</div>
<div class="t" style="top:1037.75px;font-size:14px;line-height:18px;color:#2e2e2e;right:545.10px;text-align:right;">598</div>
<div class="t" style="top:1037.75px;font-size:14px;line-height:18px;color:#2e2e2e;right:451.30px;text-align:right;">0</div>
<div class="t" style="top:1037.75px;font-size:14px;line-height:18px;color:#2e2e2e;right:367.80px;text-align:right;">Error</div>
<div class="t" style="top:1037.75px;font-size:14px;line-height:18px;color:#2e2e2e;right:310.40px;text-align:right;">60.4K</div>
<div class="t" style="top:1037.75px;font-size:14px;line-height:18px;color:#2e2e2e;right:236.20px;text-align:right;">604</div>
<div class="t" style="top:1037.75px;font-size:14px;line-height:18px;color:#2e2e2e;right:141.00px;text-align:right;">0</div>
<div class="t" style="top:1037.75px;font-size:14px;line-height:18px;color:#2e2e2e;right:57.40px;text-align:right;">Error</div>
</div></div>
<div class="r" style="left:0px;top:64px;width:512px;height:1088px;background:#ffffff;"></div>
<div class="r" style="left:512px;top:64px;width:22px;height:1088px;background:linear-gradient(90deg,rgba(0,0,0,0.28),rgba(0,0,0,0.10) 35%,rgba(0,0,0,0))"></div>
<svg class="r" style="left:16px;top:85px;" width="14" height="14" viewBox="0 0 14 14"><path d="M12.5 7 H2.5 M6.8 2.6 L2.3 7 L6.8 11.4" fill="none" stroke="#1a1a1a" stroke-width="1.6"/></svg>
<div class="t" style="top:83.55px;font-size:14px;line-height:18px;color:#1a1a1a;left:35.50px;">Workspace</div>
<div class="t" style="top:102.96px;font-size:18px;line-height:22px;color:#111111;font-weight:bold;letter-spacing:-0.38px;left:16.00px;">Scenario 2 Optimized</div>
<div class="r" style="left:417px;top:87px;width:35.5px;height:31px;background:#383838;border-radius:3px;"></div>
<svg class="r" style="left:417px;top:87px;" width="35" height="32" viewBox="0 0 35 32"><path d="M8.4 20.4 L19.3 9.5 L23.5 13.7 L12.6 24.6 L9.4 24.6 Q8.4 24.6 8.4 23.6 Z" fill="#fff"/><path d="M20.6 8.2 L22.1 6.7 Q22.8 6 23.5 6.7 L26.4 9.6 Q27.1 10.3 26.4 11 L24.9 12.5 Z" fill="#fff"/></svg>
<div class="r" style="left:461px;top:87px;width:35px;height:31px;background:#383838;border-radius:3px;"></div>
<svg class="r" style="left:461px;top:87px;" width="35" height="31" viewBox="0 0 35 31"><circle cx="17.3" cy="9.5" r="2.1" fill="#d2d2d2"/><circle cx="17.3" cy="15.4" r="2.1" fill="#d2d2d2"/><circle cx="17.3" cy="21.3" r="2.1" fill="#d2d2d2"/></svg>
<div class="r" style="left:0px;top:140.5px;width:512px;height:1.5px;background:#d3d7dc;"></div>
<div class="r" style="left:16px;top:157.5px;width:480px;height:31px;background:#fff;border:1px solid #c9cdd2;border-top-color:#d5d9dd;border-radius:3px;box-sizing:border-box;"></div>
<svg class="r" style="left:23px;top:165px;" width="18" height="18" viewBox="0 0 18 18"><circle cx="7.6" cy="7.6" r="5.3" fill="none" stroke="#777" stroke-width="1.8"/><path d="M11.4 11.4 L15.2 15.2" stroke="#777" stroke-width="2.2" stroke-linecap="round"/></svg>
<div class="t" style="top:164.05px;font-size:14px;line-height:18px;color:#8a8a8a;left:45.80px;">Search...</div>
<svg class="r" style="left:0px;top:0px;pointer-events:none;z-index:2;" width="512" height="1152" viewBox="0 0 512 1152"><path d="M59 208.8 H77 Q79 208.8 79 210.8 V222.9 Q79 224.9 77 224.9 H59 Q56.9 224.9 56.9 222.9 V210.8 Q56.9 208.8 59 208.8 Z M60.8 211 V222.9 H75.1 V211 Z" fill="#808080" fill-rule="evenodd"/><rect x="63" y="213" width="6" height="4.6" fill="#808080"/><rect x="63" y="219" width="6" height="1.9" fill="#808080"/><rect x="70" y="213" width="2.9" height="1.8" fill="#808080"/><rect x="70" y="216.1" width="2.9" height="4.6" fill="#808080"/><rect x="123.1" y="419.9" width="7.6" height="9.6" fill="#808080"/><rect x="133.2" y="419.9" width="7.5" height="5.7" fill="#808080"/><rect x="123.1" y="432" width="7.6" height="5.6" fill="#808080"/><rect x="133.2" y="428.1" width="7.5" height="9.5" fill="#808080"/><rect x="123.2" y="468.9" width="2.5" height="6" fill="#808080"/><rect x="128.2" y="464.6" width="2.6" height="7.6" fill="#808080"/><rect x="133.2" y="460.7" width="2.7" height="9.6" fill="#808080"/><path d="M123.4 478.6 L129.4 472.9 L132.8 476.2 L139.6 469.6" fill="none" stroke="#fff" stroke-width="4.2"/><path d="M123.4 478.6 L129.4 472.9 L132.8 476.2 L139.6 469.6" fill="none" stroke="#808080" stroke-width="2.1"/><path d="M136.6 468.1 L142.2 467 L141.1 472.6 Z" fill="#808080"/><path d="M122.75 502.3 V519 H142" fill="none" stroke="#808080" stroke-width="1.9"/><rect x="126" y="509.4" width="3.6" height="1.5" fill="#808080"/><rect x="126" y="512.3" width="3.6" height="1.9" fill="#808080"/><rect x="126" y="516.1" width="3.6" height="1.9" fill="#808080"/><rect x="132.2" y="505.1" width="3.6" height="1.9" fill="#808080"/><rect x="132.2" y="509" width="3.6" height="4.3" fill="#808080"/><rect x="132.2" y="514.7" width="3.6" height="3.3" fill="#808080"/><rect x="138.4" y="513.3" width="3.6" height="1.4" fill="#808080"/><rect x="138.4" y="516.1" width="3.6" height="1.9" fill="#808080"/><rect x="130.1" y="541.9" width="1.8" height="19.6" fill="#808080"/><rect x="121.9" y="544.8" width="8.4" height="2.8" fill="#808080"/><rect x="124.1" y="550" width="6.2" height="2.9" fill="#808080"/><rect x="126" y="554.8" width="4.3" height="3.3" fill="#808080"/><rect x="134.1" y="544.8" width="2.4" height="2.8" fill="#808080"/><rect x="134.1" y="550" width="4.8" height="2.9" fill="#808080"/><rect x="134.1" y="554.8" width="7.7" height="3.3" fill="#808080"/><path d="M123.8 585.2 V602 H142.9" fill="none" stroke="#6e6e6e" stroke-width="1.9"/><path d="M124 601.5 L130.4 591.1 L137.2 595.5 L141.9 587.4" fill="none" stroke="#6e6e6e" stroke-width="2"/><path d="M122.85 627 V643.95 H141.9" fill="none" stroke="#808080" stroke-width="1.9"/><rect x="126" y="633.9" width="3.75" height="10" fill="#808080"/><rect x="132.25" y="629.9" width="3.75" height="14" fill="#808080"/><rect x="138.2" y="638" width="3.7" height="6" fill="#808080"/></svg>
<div class="t" style="top:207.95px;font-size:14px;line-height:18px;color:#1f1f1f;letter-spacing:-0.096px;left:91.30px;">Scenario Dashboard</div>
<svg class="r" style="left:31px;top:251.8px;" width="12" height="14" viewBox="0 0 12 14"><path d="M3 1.9 L8.1 7 L3 12.1" fill="none" stroke="#111" stroke-width="2.1" stroke-linecap="round" stroke-linejoin="round"/></svg>
<svg class="r" style="left:57px;top:249.5px;" width="22" height="18" viewBox="0 0 22 18"><path d="M1.1 2.9 Q1.1 0.9 3.1 0.9 H10.2 L12.6 3.2 H18.9 Q20.9 3.2 20.9 5.2 V14.5 Q20.9 16.5 18.9 16.5 H3.1 Q1.1 16.5 1.1 14.5 Z" fill="#808080"/><rect x="3" y="4.6" width="16" height="10.1" fill="#fff"/></svg>
<div class="t" style="top:249.75px;font-size:14px;line-height:18px;color:#1f1f1f;left:92.00px;">Input Data</div>
<svg class="r" style="left:29.2px;top:294.5px;" width="14" height="10" viewBox="0 0 14 10"><path d="M1.9 2 L7 7.1 L12.1 2" fill="none" stroke="#111" stroke-width="2.1" stroke-linecap="round" stroke-linejoin="round"/></svg>
<svg class="r" style="left:57px;top:290.5px;" width="22" height="18" viewBox="0 0 22 18"><path d="M1.1 2.9 Q1.1 0.9 3.1 0.9 H10.2 L12.6 3.2 H18.9 Q20.9 3.2 20.9 5.2 V14.5 Q20.9 16.5 18.9 16.5 H3.1 Q1.1 16.5 1.1 14.5 Z" fill="#808080"/><rect x="3" y="4.6" width="16" height="10.1" fill="#fff"/></svg>
<div class="t" style="top:290.65px;font-size:14px;line-height:18px;color:#1f1f1f;left:92.00px;">Results</div>
<svg class="r" style="left:63.3px;top:336.3px;" width="12" height="14" viewBox="0 0 12 14"><path d="M3 1.9 L8.1 7 L3 12.1" fill="none" stroke="#111" stroke-width="2.1" stroke-linecap="round" stroke-linejoin="round"/></svg>
<svg class="r" style="left:89.3px;top:334.5px;" width="22" height="18" viewBox="0 0 22 18"><path d="M1.1 2.9 Q1.1 0.9 3.1 0.9 H10.2 L12.6 3.2 H18.9 Q20.9 3.2 20.9 5.2 V14.5 Q20.9 16.5 18.9 16.5 H3.1 Q1.1 16.5 1.1 14.5 Z" fill="#808080"/><rect x="3" y="4.6" width="16" height="10.1" fill="#fff"/></svg>
<div class="t" style="top:334.45px;font-size:14px;line-height:18px;color:#1f1f1f;left:124.10px;">Data</div>
<svg class="r" style="left:61.2px;top:380.3px;" width="14" height="10" viewBox="0 0 14 10"><path d="M1.9 2 L7 7.1 L12.1 2" fill="none" stroke="#111" stroke-width="2.1" stroke-linecap="round" stroke-linejoin="round"/></svg>
<svg class="r" style="left:89.3px;top:376.5px;" width="22" height="18" viewBox="0 0 22 18"><path d="M1.1 2.9 Q1.1 0.9 3.1 0.9 H10.2 L12.6 3.2 H18.9 Q20.9 3.2 20.9 5.2 V14.5 Q20.9 16.5 18.9 16.5 H3.1 Q1.1 16.5 1.1 14.5 Z" fill="#808080"/><rect x="3" y="4.6" width="16" height="10.1" fill="#fff"/></svg>
<div class="t" style="top:375.75px;font-size:14px;line-height:18px;color:#1f1f1f;left:124.10px;">Reports</div>
<div class="t" style="top:419.85px;font-size:14px;line-height:18px;color:#1f1f1f;letter-spacing:-0.095px;left:155.30px;">Scenario Dashboard (Power BI)</div>
<div class="t" style="top:461.35px;font-size:14px;line-height:18px;color:#1f1f1f;left:156.00px;">Margin Split</div>
<div class="t" style="top:502.85px;font-size:14px;line-height:18px;color:#1f1f1f;left:156.00px;">Cost Split</div>
<div class="t" style="top:543.45px;font-size:14px;line-height:18px;color:#1f1f1f;left:156.00px;">Material Flows</div>
<div class="r" style="left:16px;top:573.8px;width:480px;height:42px;background:#d1d1d1;border:1px solid #7a7a7a;box-sizing:border-box;"></div>
<div class="t" style="top:585.85px;font-size:14px;line-height:18px;color:#1f1f1f;left:156.90px;">Production View</div>
<div class="t" style="top:627.45px;font-size:14px;line-height:18px;color:#1f1f1f;left:156.00px;">Objective Function</div>
<svg class="r" style="left:57px;top:673px;" width="22" height="18" viewBox="0 0 22 18"><path d="M1.1 2.9 Q1.1 0.9 3.1 0.9 H10.2 L12.6 3.2 H18.9 Q20.9 3.2 20.9 5.2 V14.5 Q20.9 16.5 18.9 16.5 H3.1 Q1.1 16.5 1.1 14.5 Z" fill="#808080"/><rect x="3" y="4.6" width="16" height="10.1" fill="#fff"/></svg>
<div class="t" style="top:674.45px;font-size:14px;line-height:18px;color:#1f1f1f;left:91.80px;">Personal Dashboards</div>
<svg class="r" style="left:31px;top:716.8px;" width="12" height="14" viewBox="0 0 12 14"><path d="M3 1.9 L8.1 7 L3 12.1" fill="none" stroke="#111" stroke-width="2.1" stroke-linecap="round" stroke-linejoin="round"/></svg>
<svg class="r" style="left:57px;top:714px;" width="22" height="18" viewBox="0 0 22 18"><path d="M1.1 2.9 Q1.1 0.9 3.1 0.9 H10.2 L12.6 3.2 H18.9 Q20.9 3.2 20.9 5.2 V14.5 Q20.9 16.5 18.9 16.5 H3.1 Q1.1 16.5 1.1 14.5 Z" fill="#808080"/><rect x="3" y="4.6" width="16" height="10.1" fill="#fff"/></svg>
<div class="t" style="top:715.45px;font-size:14px;line-height:18px;color:#1f1f1f;letter-spacing:-0.083px;left:91.80px;">Shared Dashboards</div>
<div class="r" style="left:21px;top:1103.8px;width:29px;height:32.5px;background:#444444;border-radius:2px;"></div>
<svg class="r" style="left:21px;top:1104px;" width="29" height="32" viewBox="0 0 29 32"><path d="M17.2 10.5 L12.2 16 L17.2 21.5" fill="none" stroke="#fff" stroke-width="1.9"/></svg>
<div class="t" style="top:1112.05px;font-size:14px;line-height:18px;color:#1a1a1a;left:54.50px;">Collapse Menu</div>
<div class="r" style="left:0px;top:0px;width:2048px;height:64px;background:#4a4a4a;"></div>
<div class="r" style="left:0px;top:0px;width:64px;height:64px;background:#6a1fb8;"></div>
<div class="r" style="left:22px;top:24.2px;width:20.5px;height:2px;background:#e6daf2;border-radius:1px"></div>
<div class="r" style="left:22px;top:30.9px;width:20.5px;height:2px;background:#e6daf2;border-radius:1px"></div>
<div class="r" style="left:22px;top:37.7px;width:20.5px;height:2px;background:#e6daf2;border-radius:1px"></div>
<svg class="r" style="left:0px;top:0px;" width="230" height="64" viewBox="0 0 230 64"><circle cx="104" cy="32" r="17.4" fill="none" stroke="#f0f0f0" stroke-width="1.45" stroke-dasharray="0 1.15 66.03 2.30 38.70 1.15" transform="rotate(0 104 32)"/><circle cx="104" cy="32" r="14.3" fill="none" stroke="#f0f0f0" stroke-width="1.45" stroke-dasharray="0 1.15 53.86 2.30 31.39 1.15" transform="rotate(90 104 32)"/><circle cx="104" cy="32" r="10.9" fill="none" stroke="#f0f0f0" stroke-width="1.45" stroke-dasharray="0 1.15 23.38 2.30 40.50 1.15" transform="rotate(45 104 32)"/><ellipse cx="136.4" cy="31.8" rx="6.9" ry="6.6" fill="none" stroke="#f2f2f2" stroke-width="1.65"/><path d="M146.8 25.3 H153.2 A3.4 3.4 0 0 1 153.2 32.1 H147.7 V39.1" fill="none" stroke="#f2f2f2" stroke-width="1.65"/><path d="M159.3 25.1 H170.9 M165.1 25.1 V39" fill="none" stroke="#f2f2f2" stroke-width="1.65"/><path d="M170.4 39.2 L176.4 25.2 L182.4 39.2" fill="none" stroke="#f2f2f2" stroke-width="1.65" stroke-linejoin="round"/><path d="M186.4 39.1 V25.2 L196.4 38.7 V25" fill="none" stroke="#f2f2f2" stroke-width="1.65" stroke-linejoin="bevel"/><ellipse cx="207.6" cy="31.8" rx="6.9" ry="6.6" fill="none" stroke="#f2f2f2" stroke-width="1.65"/></svg>
<div class="t" style="top:23.75px;font-size:14px;line-height:18px;color:#f4f4f4;letter-spacing:0.083px;left:245.90px;">Blueprint Network Optimization</div>
<div class="t" style="top:23.75px;font-size:14px;line-height:18px;color:#f4f4f4;letter-spacing:-0.074px;left:464.40px;">Scenario Manager</div>
<div class="t" style="top:23.75px;font-size:14px;line-height:18px;color:#f4f4f4;letter-spacing:0.015px;left:602.40px;">Workspace: Transport Cost Optimization</div>
<div class="t" style="top:23.75px;font-size:14px;line-height:18px;color:#f4f4f4;letter-spacing:-0.052px;left:878.80px;">Scenario: 2 Optimized</div>
<svg class="r" style="left:447.2px;top:27px;" width="6" height="10" viewBox="0 0 6 10"><path d="M0.5 0.8 L5 5 L0.5 9.2 Z" fill="#f0f0f0"/></svg>
<svg class="r" style="left:586.5px;top:27px;" width="6" height="10" viewBox="0 0 6 10"><path d="M0.5 0.8 L5 5 L0.5 9.2 Z" fill="#f0f0f0"/></svg>
<svg class="r" style="left:862.6px;top:27px;" width="6" height="10" viewBox="0 0 6 10"><path d="M0.5 0.8 L5 5 L0.5 9.2 Z" fill="#f0f0f0"/></svg>
<svg class="r" style="left:1022.4px;top:27px;" width="6" height="10" viewBox="0 0 6 10"><path d="M0.5 0.8 L5 5 L0.5 9.2 Z" fill="#f0f0f0"/></svg>
<div class="t" style="top:23.75px;font-size:14px;line-height:18px;color:#ffffff;font-weight:bold;letter-spacing:-0.388px;left:1039.50px;">Production View</div>
<svg class="r" style="left:1870px;top:19px;" width="28" height="28" viewBox="0 0 28 28"><circle cx="13.1" cy="12.9" r="9.3" fill="none" stroke="#f4f4f4" stroke-width="1.9"/><path d="M10.1 10.6 A3 3 0 1 1 14.3 13.2 C13.3 13.7 13.1 14.3 13.1 15.6" fill="none" stroke="#f4f4f4" stroke-width="1.8"/><circle cx="13.1" cy="18.1" r="1.1" fill="#f4f4f4"/></svg>
<svg class="r" style="left:1918px;top:20px;" width="26" height="28" viewBox="0 0 26 28"><path d="M4.6 21 Q6.9 19.8 6.9 17.4 V12.6 Q6.9 5.9 13 5.6 Q19.1 5.9 19.1 12.6 V17.4 Q19.1 19.8 21.4 21 Z" fill="none" stroke="#f4f4f4" stroke-width="1.9" stroke-linejoin="round"/><circle cx="13" cy="4.6" r="1.4" fill="#f4f4f4"/><path d="M11.1 23.6 H14.9" stroke="#f4f4f4" stroke-width="1.6"/></svg>
<svg class="r" style="left:1966px;top:18px;" width="28" height="28" viewBox="0 0 28 28"><circle cx="14" cy="13.9" r="9.3" fill="none" stroke="#f4f4f4" stroke-width="1.9"/><circle cx="14" cy="10.5" r="2.4" fill="none" stroke="#f4f4f4" stroke-width="1.7"/><path d="M8 20.5 C10.5 17.6 17.5 17.6 20 20.5" fill="none" stroke="#f4f4f4" stroke-width="1.8"/></svg>
<svg class="r" style="left:2001px;top:28px;" width="14" height="10" viewBox="0 0 14 10"><path d="M3.2 3.6 L7.2 7.6 L11.2 3.6" fill="none" stroke="#f4f4f4" stroke-width="2"/></svg>
</body></html>
